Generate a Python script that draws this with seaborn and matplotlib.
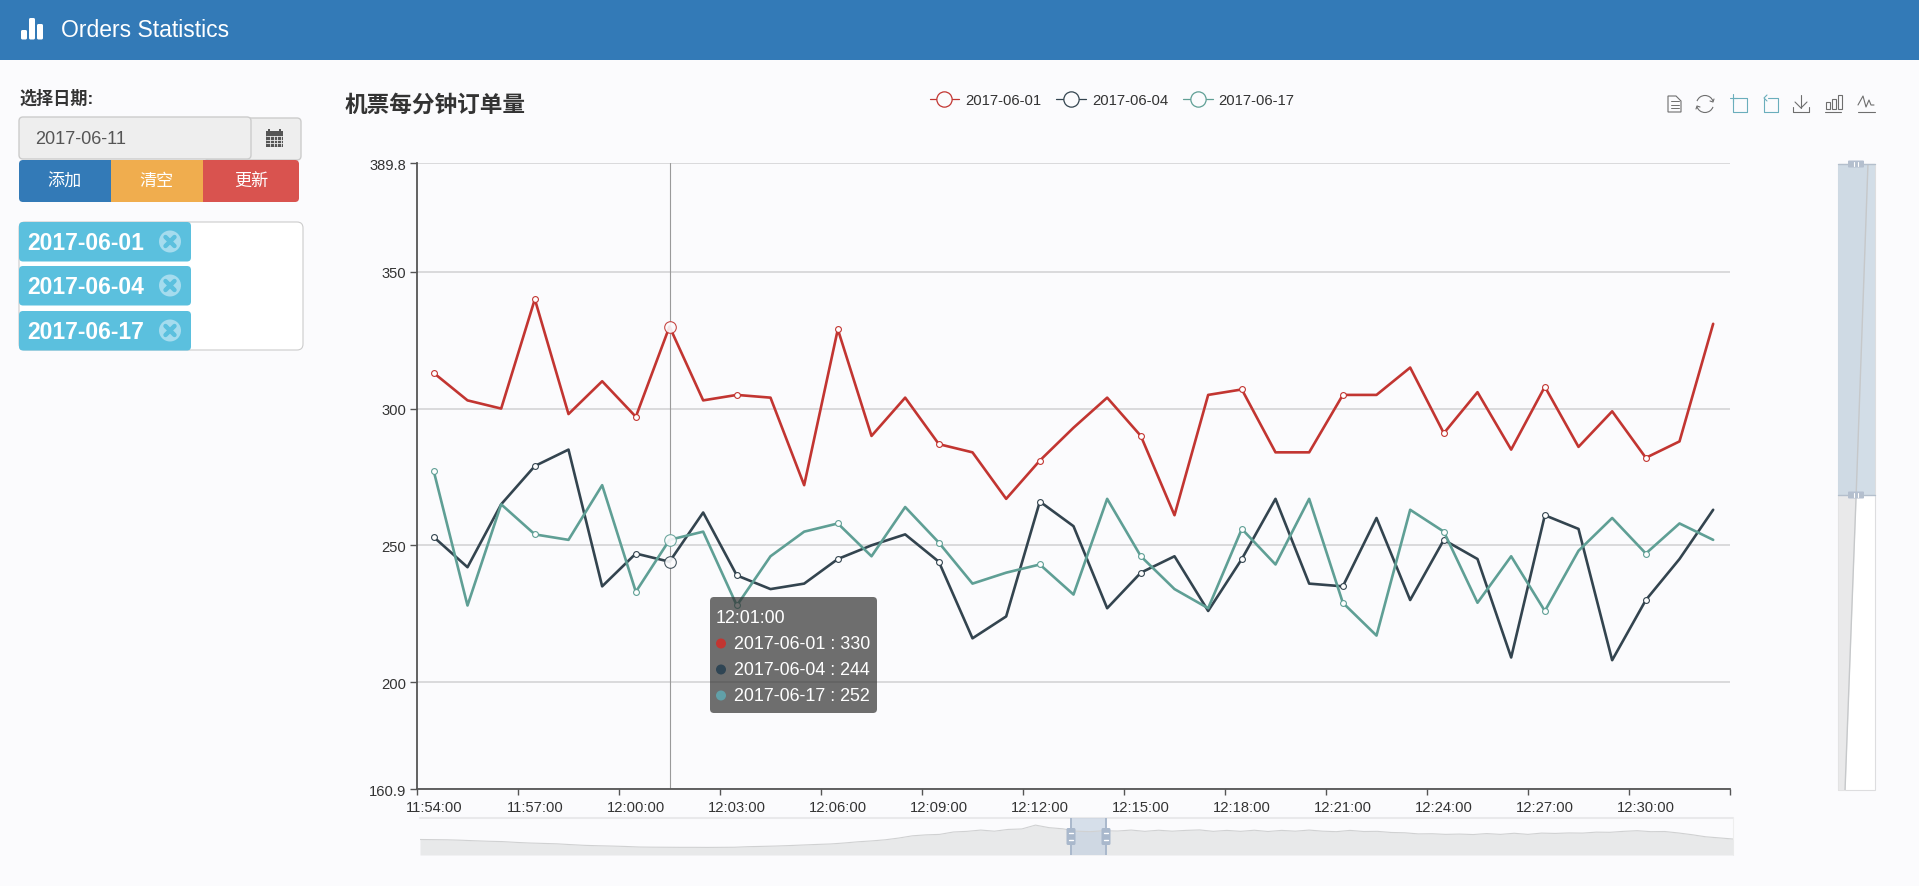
import numpy as np
import pandas as pd
import matplotlib
matplotlib.use("Agg")
import matplotlib.pyplot as plt
from matplotlib.lines import Line2D
from matplotlib.patches import Arc, Circle, FancyBboxPatch, Polygon, Rectangle
import seaborn as sns

# values
tick_minutes = ['11:54:00', '11:57:00', '12:00:00', '12:03:00', '12:06:00', '12:09:00', '12:12:00',
                '12:15:00', '12:18:00', '12:21:00', '12:24:00', '12:27:00', '12:30:00']
y_ticks = [160.9, 200, 250, 300, 350, 389.8]
y_tick_labels = ['160.9', '200', '250', '300', '350', '389.8']

orders_0601 = [313, 303, 300, 340, 298, 310, 297, 330, 303, 305, 304, 272, 329, 290, 304, 287, 284, 267, 281, 293,
               304, 290, 261, 305, 307, 284, 284, 305, 305, 315, 291, 306, 285, 308, 286, 299, 282, 288, 331]
orders_0604 = [253, 242, 265, 279, 285, 235, 247, 244, 262, 239, 234, 236, 245, 250, 254, 244, 216, 224, 266, 257,
               227, 240, 246, 226, 245, 267, 236, 235, 260, 230, 252, 245, 209, 261, 256, 208, 230, 245, 263]
orders_0617 = [277, 228, 265, 254, 252, 272, 233, 252, 255, 228, 246, 255, 258, 246, 264, 251, 236, 240, 243, 232,
               267, 246, 234, 227, 256, 243, 267, 229, 217, 263, 255, 229, 246, 226, 248, 260, 247, 258, 252]
dates = ['2017-06-01', '2017-06-04', '2017-06-17']
line_colors = ['#c23531', '#33444f', '#5f9f95']
dot_colors = ['#c23531', '#2f4554', '#61a0a8']
hover_index = 7
hover_time = '12:01:00'

# whole day overview in the bottom slider, one value per 15 minutes
overview_orders = [194, 192, 190, 185, 178, 172, 168, 158, 150, 145, 140, 130, 121, 116, 112, 107,
                   100, 98, 97, 96, 96, 95, 96, 97, 104, 108, 112, 118, 125, 132, 138, 150,
                   165, 176, 190, 212, 240, 252, 258, 288, 296, 312, 298, 320, 326, 374, 342, 328,
                   298, 292, 304, 300, 312, 296, 310, 298, 308, 314, 296, 308, 296, 310, 294, 308,
                   298, 312, 298, 292, 308, 294, 296, 282, 278, 264, 266, 258, 262, 256, 268, 258,
                   272, 258, 274, 270, 276, 274, 286, 284, 296, 304, 292, 294, 276, 254, 228, 214, 200]
# vertical slider outline
side_levels = [0.0, 0.529, 1.0]
side_values = [0.81, 0.49, 0.19]

sns.set_theme(style="white")
plt.rcParams['font.family'] = ['Liberation Sans', 'Noto Sans CJK SC', 'DejaVu Sans']

PAGE = '#fbfbfd'
W, H = 1919, 887
fig = plt.figure(figsize=(W / 100, H / 100), dpi=100, facecolor=PAGE)


def box_axes(x0, y0, x1, y1, **kw):
    return fig.add_axes([x0 / W, 1 - y1 / H, (x1 - x0) / W, (y1 - y0) / H], **kw)


def pixel_layer(zorder):
    layer = box_axes(0, 0, W, H, zorder=zorder)
    layer.set_xlim(0, W)
    layer.set_ylim(H, 0)
    layer.axis('off')
    layer.patch.set_alpha(0)
    return layer


def rounded(layer, x0, y0, x1, y1, radius=4, **kw):
    layer.add_patch(FancyBboxPatch((x0, y0), x1 - x0, y1 - y0,
                                   boxstyle=f'round,pad=0,rounding_size={radius}', **kw))


ui = pixel_layer(0)

# header
ui.add_patch(Rectangle((0, 0), W, 60.5, color='#337ab7', lw=0))
for bx, by in [(21, 31), (29, 19), (37, 25)]:
    rounded(ui, bx, by, bx + 6, 40.5, radius=1.5, fc='white', ec='none')
ui.text(61, 30.5, 'Orders Statistics', color='white', fontsize=16.5, va='center')

# left panel
ui.text(19, 97.5, '选择日期:', color='#333333', fontsize=12.3, fontweight='bold', va='center')
rounded(ui, 205, 119, 301, 161, fc='#eeeeee', ec='#cccccc', lw=1)
rounded(ui, 19, 118, 251, 160, fc='#eeeeee', ec='#cccccc', lw=1)
ui.text(35, 139.5, '2017-06-11', color='#555555', fontsize=13.1, va='center')
ui.add_patch(Rectangle((266, 132), 17, 16, fc='#555555', ec='none'))
ui.add_patch(Rectangle((268, 130), 2, 3, fc='#555555', ec='none'))
ui.add_patch(Rectangle((279, 130), 2, 3, fc='#555555', ec='none'))
for gx in [270, 273.5, 277, 280.5]:
    ui.plot([gx, gx], [137, 147], color='#eeeeee', lw=0.6)
for gy in [137, 140.5, 144]:
    ui.plot([266, 283], [gy, gy], color='#eeeeee', lw=0.6)

rounded(ui, 19, 161, 120, 203, fc='#337ab7', ec='none')
rounded(ui, 190, 161, 299, 203, fc='#d9534f', ec='none')
ui.add_patch(Rectangle((111, 161), 92, 42, fc='#f0ad4e', ec='none'))
for bx, label in [(65, '添加'), (157, '清空'), (251, '更新')]:
    ui.text(bx, 181.5, label, color='white', fontsize=12.3, ha='center', va='center')

rounded(ui, 19, 223, 303, 351, radius=6, fc='white', ec='#cccccc', lw=0.8)
for top, label in zip([223, 267, 312], dates):
    rounded(ui, 19, top, 191, top + 39.5, fc='#5bc0de', ec='none')
    ui.text(27, top + 20.5, label, color='white', fontsize=16.5, fontweight='bold', va='center')
    ui.add_patch(Circle((170, top + 19.5), 11, fc='#a5dcee', ec='none'))
    ui.plot([165.5, 174.5], [top + 15, top + 24], color='#5bc0de', lw=3.2, solid_capstyle='round')
    ui.plot([165.5, 174.5], [top + 24, top + 15], color='#5bc0de', lw=3.2, solid_capstyle='round')

# chart title
ui.text(345, 105, '机票每分钟订单量', color='#333333', fontsize=16.3, fontweight='bold', va='center')

# toolbox icons
GREY, TEAL = '#6e6e6e', '#6aaebc'
ui.add_patch(Polygon([(1668, 97), (1676, 97), (1681, 102), (1681, 113), (1668, 113)], closed=True,
                     fc='none', ec=GREY, lw=0.8))
for ly in [102, 105.5, 109]:
    ui.plot([1670.5, 1678.5], [ly, ly], color=GREY, lw=0.7)
ui.add_patch(Arc((1705, 105), 17, 17, theta1=200, theta2=340, ec=GREY, lw=0.8))
ui.add_patch(Arc((1705, 105), 17, 17, theta1=20, theta2=160, ec=GREY, lw=0.8))
ui.plot([1714, 1713, 1710], [100, 103, 102], color=GREY, lw=0.8)
ui.plot([1696, 1697, 1700], [110, 107, 108], color=GREY, lw=0.8)
ui.plot([1733, 1733, 1747, 1747, 1737, 1733], [100, 113, 113, 99, 99, 99], color=TEAL, lw=0.8)
ui.plot([1733, 1733], [95, 103], color=TEAL, lw=0.8)
ui.plot([1730, 1737], [99, 99], color=TEAL, lw=0.8)
ui.plot([1764, 1764, 1778, 1778, 1768], [100, 113, 113, 99, 99], color=TEAL, lw=0.8)
ui.plot([1767, 1764, 1767], [96, 99, 102], color=TEAL, lw=0.8)
ui.plot([1801, 1801], [96, 109], color=GREY, lw=0.8)
ui.plot([1795, 1801, 1807], [103, 109, 103], color=GREY, lw=0.8)
ui.plot([1793, 1793, 1809, 1809], [108, 113, 113, 108], color=GREY, lw=0.8)
for bx, top in [(1826, 103), (1832, 100), (1838, 96)]:
    ui.add_patch(Rectangle((bx, top), 4, 110 - top, fc='none', ec=GREY, lw=0.8))
ui.plot([1825, 1841], [113, 113], color=GREY, lw=0.8)
ui.plot([1858, 1863, 1866, 1869, 1871, 1874], [106, 97, 108, 101, 106, 106], color=GREY, lw=0.8)
ui.plot([1858, 1875], [113, 113], color=GREY, lw=0.8)

# main line chart
positions = np.arange(len(orders_0601))
ax = box_axes(417, 164, 1730, 790, zorder=2)
ax.patch.set_alpha(0)
ax.axvline(hover_index, color='#9a9a9a', lw=0.8, zorder=1)

for label, values, color in zip(dates, [orders_0601, orders_0604, orders_0617], line_colors):
    frame = pd.DataFrame({'position': positions, 'orders': values})
    sns.lineplot(data=frame, x='position', y='orders', ax=ax, color=color, lw=1.9, errorbar=None,
                 marker='o', markevery=3, markersize=4.2, markerfacecolor='white',
                 markeredgecolor=color, markeredgewidth=0.8, legend=False, zorder=3)
    ax.scatter(hover_index, values[hover_index], s=70, facecolor=PAGE, edgecolor=color, lw=0.8, zorder=4, alpha=0.9)

ax.set_xlim(-0.5, 38.5)
ax.set_ylim(160.9, 389.8)
ax.set_yticks(y_ticks)
ax.set_yticklabels(y_tick_labels)
ax.set_xticks(np.append(positions[::3] - 0.5, 38.5))
ax.set_xticklabels([])
ax.set_xticks(positions[::3], tick_minutes, minor=True)
ax.set_xlabel('')
ax.set_ylabel('')
ax.grid(axis='y', color='#dadadc', lw=1.4)
ax.set_axisbelow(True)
ax.spines[['top', 'right']].set_visible(False)
ax.spines[['left', 'bottom']].set_color('#555555')
ax.spines[['left', 'bottom']].set_linewidth(1.3)
ax.tick_params(axis='y', which='major', left=True, length=5, width=1, color='#555555',
               labelsize=10.6, labelcolor='#333333', pad=3)
ax.tick_params(axis='x', which='major', bottom=True, length=4, width=1, color='#555555')
ax.tick_params(axis='x', which='minor', bottom=False, length=0, labelsize=10.6, labelcolor='#333333', pad=8)

handles = [Line2D([], [], color=c, lw=0.9, marker='o', markersize=11, markerfacecolor=PAGE,
                  markeredgecolor=c, markeredgewidth=0.9) for c in line_colors]
fig.legend(handles, dates, loc='center', bbox_to_anchor=(1112 / W, 1 - 101 / H), ncol=3, frameon=False,
           fontsize=10.7, labelcolor='#333333', handlelength=2.0, handletextpad=0.4, columnspacing=1.0,
           borderpad=0, borderaxespad=0)

# bottom slider
minutes = np.arange(0, 1441, 15)
ov = box_axes(420, 819, 1733, 856, zorder=1)
ov.patch.set_alpha(0)
ov.fill_between(minutes, overview_orders, color='#e8e9ea', lw=0)
sns.lineplot(x=minutes, y=overview_orders, ax=ov, color='#d0d1d2', lw=0.8, errorbar=None)
ov.set_xlim(0, 1440)
ov.set_ylim(0, 463)
ov.axvspan(714, 752, color='#c3d0e0', alpha=0.65, lw=0)
for m in [714, 752]:
    ov.axvline(m, color='#a9b8cc', lw=1.4)
ov.axis('off')
ui.plot([420, 1733], [819, 819], color='#e9e9eb', lw=1.5)
ui.plot([1733, 1733], [819, 856], color='#eeeeee', lw=0.8)

top_ui = pixel_layer(3)
for hx in [1071, 1106]:
    rounded(top_ui, hx - 4.5, 829, hx + 4.5, 846, radius=1.5, fc='#a9b8cc', ec='none')
    top_ui.plot([hx - 2, hx + 2], [834, 834], color='white', lw=1)
    top_ui.plot([hx - 2, hx + 2], [841, 841], color='white', lw=1)

# vertical slider
ui.add_patch(Rectangle((1838, 165), 37, 626, fc='white', ec='#dddddf', lw=0.8))
sd = box_axes(1838, 165, 1875, 791, zorder=1)
sd.patch.set_alpha(0)
sd.set_xlim(0, 1)
sd.set_ylim(1, 0)
sd.fill_betweenx(side_levels, 0, side_values, color='#e9e9ea', lw=0)
sd.plot(side_values, side_levels, color='#c6c8ca', lw=1)
sd.axhspan(0, side_levels[1], color='#cbd8e3', alpha=0.85, lw=0)
sd.axis('off')
for hy in [165, 496]:
    top_ui.plot([1838, 1875], [hy, hy], color='#b4bfcc', lw=1)
    rounded(top_ui, 1848, hy - 3.5, 1864, hy + 3.5, radius=1, fc='#b4bfcf', ec='none')
    top_ui.plot([1854, 1854], [hy - 2, hy + 2], color='white', lw=0.8)
    top_ui.plot([1858, 1858], [hy - 2, hy + 2], color='white', lw=0.8)

# tooltip for the hovered minute
rounded(top_ui, 710, 598, 877, 714, radius=4, fc='#323232', ec='none', alpha=0.7)
top_ui.text(716, 619, hover_time, color='white', fontsize=12.9, va='center')
for row_y, label, values, dot in zip([644.5, 670.5, 696.5], dates, [orders_0601, orders_0604, orders_0617], dot_colors):
    top_ui.add_patch(Circle((721, row_y), 5, fc=dot, ec='none'))
    top_ui.text(734, row_y, f'{label} : {values[hover_index]}', color='white', fontsize=12.9, va='center')

fig.savefig('out.png', dpi=100, facecolor=PAGE)
plt.close(fig)
